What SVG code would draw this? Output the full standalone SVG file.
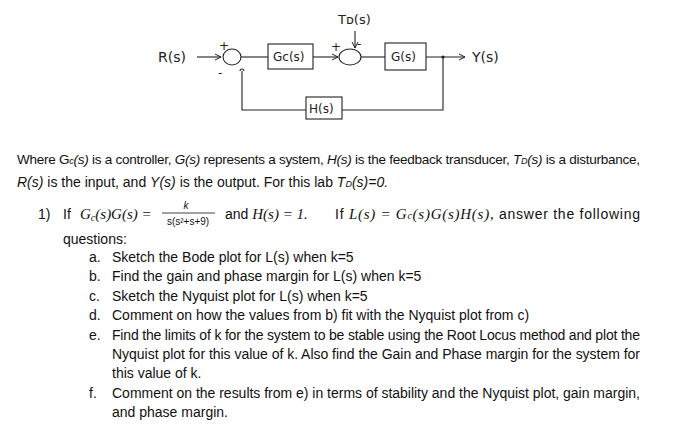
<svg xmlns="http://www.w3.org/2000/svg" width="680" height="448" viewBox="0 0 680 448">
<style>
.t{font-family:"Liberation Sans",Arial,sans-serif;font-size:14px;fill:#111}
.i{font-style:italic}
.m{font-family:"Liberation Serif","Times New Roman",serif;font-style:italic}
.h{font-family:"DejaVu Sans",sans-serif;font-size:12px;fill:#222}
.s{fill:none;stroke:#222;stroke-width:1.1}
</style>
<defs><marker id="ar" markerWidth="8" markerHeight="8" refX="7" refY="4" orient="auto" markerUnits="userSpaceOnUse"><path d="M1,1 L7,4 L1,7" fill="none" stroke="#222" stroke-width="1"/></marker></defs>
<rect width="680" height="448" fill="#fff"/>
<g id="R"><text class="h" x="158" y="62" style="font-size:14px">R(s)</text></g>
<g id="sum1"><ellipse class="s" cx="232" cy="57" rx="9" ry="8"/><text class="h" x="219" y="50">+</text><text class="h" x="218" y="77">-</text></g>
<g id="Gc"><rect class="s" x="268" y="44" width="45" height="25"/><text class="h" x="273" y="61">Gc(s)</text></g>
<g id="Td"><text class="h" x="338" y="24" style="font-size:13px">Tᴅ(s)</text></g>
<g id="sum2"><ellipse class="s" cx="350" cy="57" rx="11" ry="8"/><text class="h" x="331" y="51">+</text><text class="h" x="357" y="48">-</text></g>
<g id="G"><rect class="s" x="385" y="43" width="41" height="27"/><text class="h" x="391" y="61">G(s)</text></g>
<g id="Y"><text class="h" x="472" y="62" style="font-size:14px">Y(s)</text></g>
<g id="H"><rect class="s" x="306" y="97" width="36" height="22"/><text class="h" x="309" y="113">H(s)</text></g>
<g id="connectors">
<path class="s" d="M197,57 H221" marker-end="url(#ar)"/>
<path class="s" d="M241,57 H268"/>
<path class="s" d="M313,57 H338" marker-end="url(#ar)"/>
<path class="s" d="M355,31 V48" marker-end="url(#ar)"/>
<path class="s" d="M361,57 H385"/>
<path class="s" d="M426,57 H465" marker-end="url(#ar)"/>
<circle cx="443" cy="57" r="1.6" fill="#222"/>
<path class="s" d="M443,57 V110 H342 M306,110 H242 V71"/>
<path class="s" d="M240,71 a2,2 0 0 1 4,0"/>
</g>
<text class="t" x="17" y="164" textLength="623" style="font-size:13.5px">Where G<tspan class="i" style="font-size:9px">c</tspan><tspan class="i">(s)</tspan> is a controller, <tspan class="i">G(s)</tspan> represents a system, <tspan class="i">H(s)</tspan> is the feedback transducer, <tspan class="i">T</tspan><tspan class="i" style="font-size:9px">D</tspan><tspan class="i">(s)</tspan> is a disturbance,</text>
<text class="t" x="17" y="187"><tspan class="i">R(s)</tspan> is the input, and <tspan class="i">Y(s)</tspan> is the output.  For this lab <tspan class="i">T</tspan><tspan class="i" style="font-size:9px">D</tspan><tspan class="i">(s)=0.</tspan></text>
<text class="t" x="38" y="219">1)</text>
<text class="t" x="63" y="219">If</text>
<text class="t m" x="80" y="219" style="font-size:15px">G<tspan style="font-size:10px" dy="2">c</tspan><tspan dy="-2">(s)G(s) =</tspan></text>
<text class="t i" x="186" y="209" style="font-size:10px" text-anchor="middle">k</text>
<line x1="162" y1="213" x2="215" y2="213" stroke="#111" stroke-width="0.8"/>
<text class="t" x="188" y="225" style="font-size:10px" text-anchor="middle">s(s²+s+9)</text>
<text class="t" x="225" y="219">and <tspan class="m" style="font-size:15px">H(s) = 1.</tspan></text>
<text class="t" x="335" y="219" textLength="305">If <tspan class="m" style="font-size:15px">L(s) = G</tspan><tspan class="m" style="font-size:10px">c</tspan><tspan class="m" style="font-size:15px">(s)G(s)H(s),</tspan> answer the following</text>
<text class="t" x="63" y="244">questions:</text>
<text class="t" x="89" y="262">a.</text><text class="t" x="112" y="262">Sketch the Bode plot for L(s) when k=5</text>
<text class="t" x="89" y="281">b.</text><text class="t" x="112" y="281">Find the gain and phase margin for L(s) when k=5</text>
<text class="t" x="89" y="301">c.</text><text class="t" x="112" y="301">Sketch the Nyquist plot for L(s) when k=5</text>
<text class="t" x="89" y="320">d.</text><text class="t" x="112" y="320">Comment on how the values from b) fit with the Nyquist plot from c)</text>
<text class="t" x="89" y="340">e.</text><text class="t" x="112" y="340" textLength="528">Find the limits of k for the system to be stable using the Root Locus method and plot the</text>
<text class="t" x="112" y="359" textLength="528">Nyquist plot for this value of k.  Also find the Gain and Phase margin for the system for</text>
<text class="t" x="112" y="378">this value of k.</text>
<text class="t" x="89" y="398">f.</text><text class="t" x="112" y="398" textLength="528">Comment on the results from e) in terms of stability and the Nyquist plot, gain margin,</text>
<text class="t" x="112" y="417">and phase margin.</text>
</svg>
